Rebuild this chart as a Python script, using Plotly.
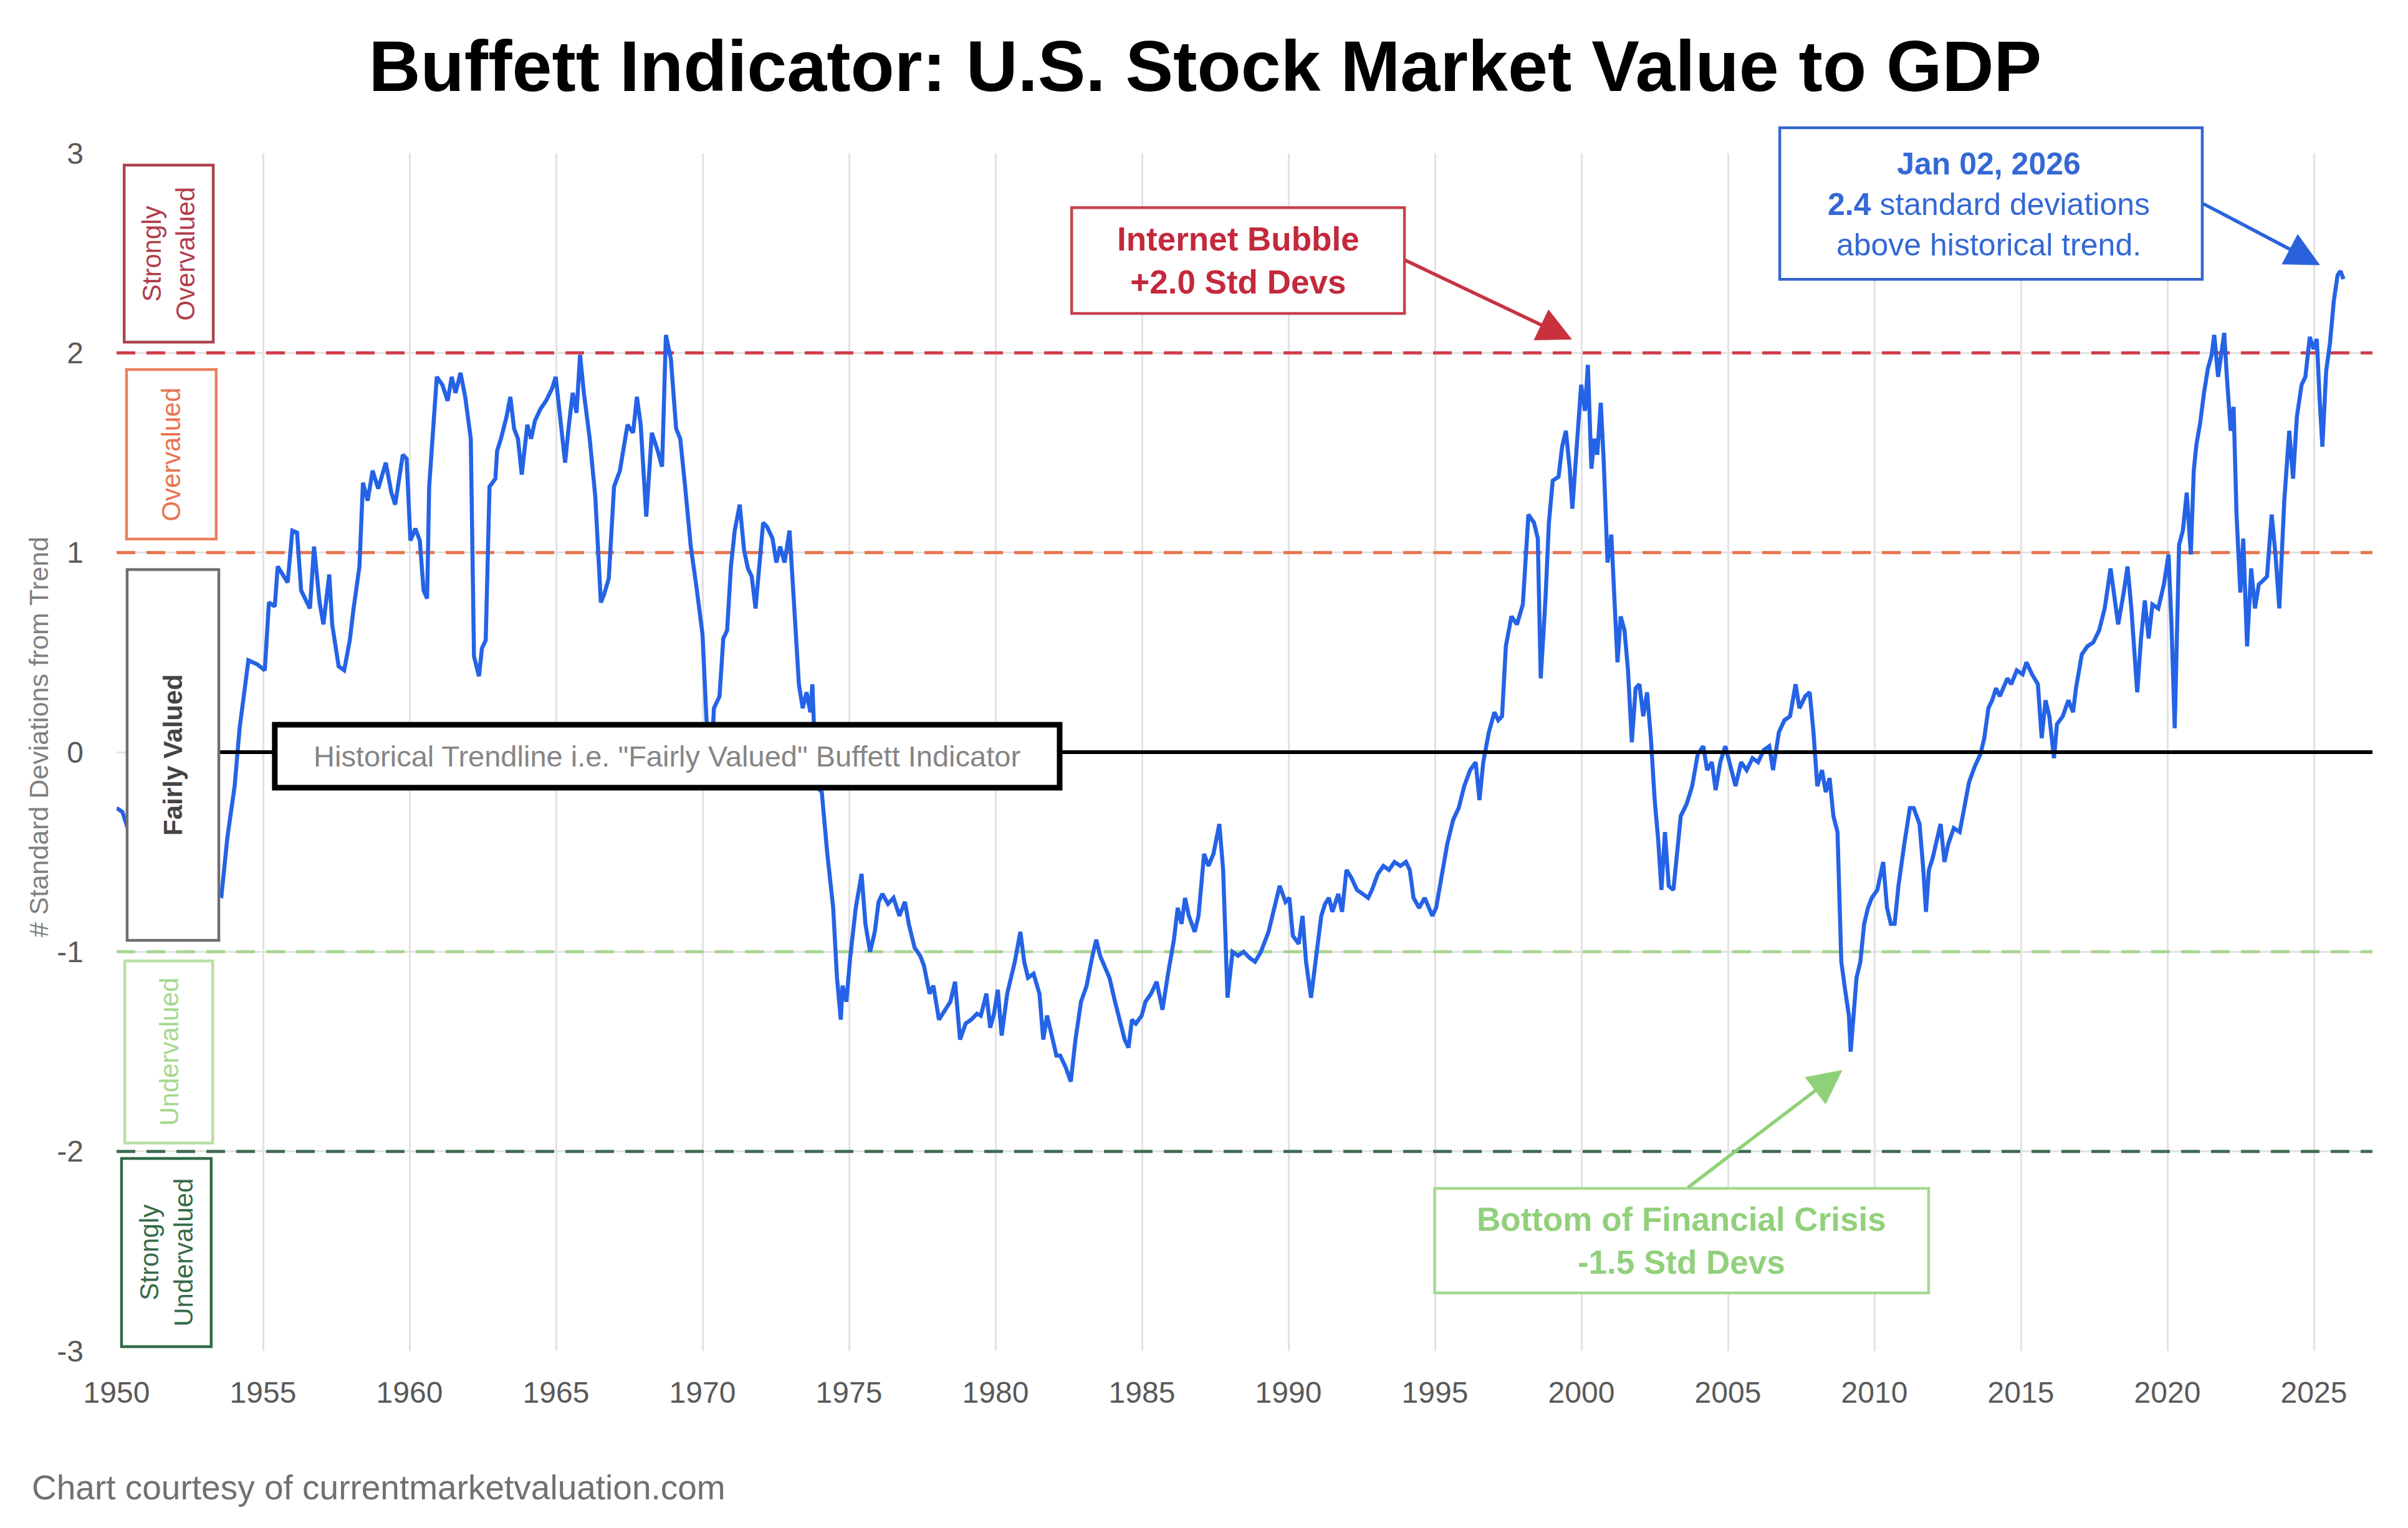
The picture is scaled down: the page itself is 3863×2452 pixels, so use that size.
import plotly.graph_objects as go

# ---------------- data ----------------
title_text = "Buffett Indicator: U.S. Stock Market Value to GDP"
source_text = "Chart courtesy of currentmarketvaluation.com"
y_axis_title = "# Standard Deviations from Trend"

years = [
    1950.0, 1950.2, 1950.4, 1951.0, 1951.8, 1952.6, 1953.3, 1953.58, 1953.78, 1954.03,
    1954.2, 1954.5, 1954.8, 1955.06, 1955.2, 1955.4, 1955.5, 1955.84, 1956.0, 1956.16,
    1956.3, 1956.6, 1956.74, 1956.93, 1957.06, 1957.26, 1957.36, 1957.58, 1957.77, 1957.96,
    1958.09, 1958.29, 1958.41, 1958.57, 1958.74, 1958.93, 1959.19, 1959.38, 1959.51, 1959.77,
    1959.9, 1960.03, 1960.2, 1960.35, 1960.48, 1960.6, 1960.67, 1960.93, 1961.12, 1961.3,
    1961.44, 1961.57, 1961.74, 1961.9, 1962.09, 1962.2, 1962.37, 1962.47, 1962.6, 1962.73,
    1962.93, 1962.99, 1963.12, 1963.31, 1963.44, 1963.57, 1963.7, 1963.83, 1964.02, 1964.15,
    1964.28, 1964.47, 1964.66, 1964.86, 1964.99, 1965.12, 1965.31, 1965.44, 1965.57, 1965.7,
    1965.82, 1965.95, 1966.15, 1966.34, 1966.53, 1966.64, 1966.8, 1966.98, 1967.18, 1967.44,
    1967.63, 1967.76, 1967.89, 1968.08, 1968.27, 1968.47, 1968.62, 1968.75, 1968.92, 1969.1,
    1969.24, 1969.4, 1969.6, 1969.8, 1970.0, 1970.13, 1970.26, 1970.39, 1970.58, 1970.71,
    1970.84, 1970.97, 1971.1, 1971.27, 1971.42, 1971.55, 1971.68, 1971.81, 1971.94, 1972.07,
    1972.2, 1972.39, 1972.52, 1972.65, 1972.8, 1972.97, 1973.1, 1973.29, 1973.42, 1973.55,
    1973.68, 1973.75, 1973.88, 1974.07, 1974.26, 1974.46, 1974.59, 1974.72, 1974.78, 1974.91,
    1975.04, 1975.23, 1975.43, 1975.56, 1975.72, 1975.88, 1976.01, 1976.14, 1976.33, 1976.52,
    1976.72, 1976.91, 1977.04, 1977.24, 1977.43, 1977.56, 1977.75, 1977.88, 1978.07, 1978.27,
    1978.46, 1978.62, 1978.79, 1978.98, 1979.17, 1979.37, 1979.5, 1979.69, 1979.82, 1979.95,
    1980.08, 1980.21, 1980.4, 1980.66, 1980.85, 1980.98, 1981.11, 1981.3, 1981.5, 1981.63,
    1981.76, 1981.89, 1982.08, 1982.21, 1982.4, 1982.57, 1982.73, 1982.92, 1983.11, 1983.31,
    1983.44, 1983.57, 1983.76, 1983.89, 1984.08, 1984.28, 1984.41, 1984.54, 1984.66, 1984.79,
    1984.99, 1985.12, 1985.31, 1985.5, 1985.7, 1985.89, 1986.09, 1986.22, 1986.35, 1986.47,
    1986.6, 1986.8, 1986.93, 1987.12, 1987.27, 1987.44, 1987.64, 1987.77, 1987.92, 1988.09,
    1988.28, 1988.47, 1988.67, 1988.86, 1989.06, 1989.32, 1989.58, 1989.7, 1989.9, 1990.03,
    1990.15, 1990.35, 1990.48, 1990.6, 1990.77, 1990.93, 1991.12, 1991.25, 1991.38, 1991.5,
    1991.7, 1991.83, 1991.98, 1992.15, 1992.34, 1992.53, 1992.72, 1992.85, 1993.05, 1993.24,
    1993.43, 1993.62, 1993.82, 1994.01, 1994.14, 1994.27, 1994.46, 1994.65, 1994.91, 1995.04,
    1995.23, 1995.42, 1995.62, 1995.81, 1996.0, 1996.2, 1996.39, 1996.52, 1996.65, 1996.84,
    1997.03, 1997.16, 1997.29, 1997.42, 1997.61, 1997.8, 1998.0, 1998.19, 1998.38, 1998.51,
    1998.61, 1998.77, 1998.89, 1999.02, 1999.22, 1999.34, 1999.47, 1999.6, 1999.69, 1999.86,
    1999.99, 2000.12, 2000.22, 2000.34, 2000.44, 2000.54, 2000.66, 2000.76, 2000.89, 2001.02,
    2001.14, 2001.23, 2001.34, 2001.47, 2001.59, 2001.72, 2001.85, 2001.98, 2002.11, 2002.24,
    2002.37, 2002.5, 2002.62, 2002.73, 2002.85, 2002.98, 2003.14, 2003.27, 2003.39, 2003.59,
    2003.78, 2003.97, 2004.16, 2004.29, 2004.45, 2004.58, 2004.74, 2004.91, 2005.06, 2005.26,
    2005.45, 2005.64, 2005.84, 2006.03, 2006.22, 2006.41, 2006.54, 2006.74, 2006.93, 2007.12,
    2007.31, 2007.44, 2007.64, 2007.79, 2007.92, 2008.05, 2008.21, 2008.34, 2008.47, 2008.6,
    2008.74, 2008.87, 2009.0, 2009.13, 2009.19, 2009.3, 2009.39, 2009.52, 2009.65, 2009.78,
    2009.91, 2010.1, 2010.3, 2010.43, 2010.56, 2010.69, 2010.82, 2011.02, 2011.21, 2011.34,
    2011.54, 2011.67, 2011.76, 2011.86, 2011.99, 2012.13, 2012.26, 2012.39, 2012.52, 2012.71,
    2012.91, 2013.04, 2013.23, 2013.43, 2013.62, 2013.75, 2013.89, 2014.02, 2014.15, 2014.28,
    2014.41, 2014.54, 2014.67, 2014.86, 2015.06, 2015.19, 2015.38, 2015.58, 2015.71, 2015.84,
    2015.97, 2016.13, 2016.23, 2016.43, 2016.62, 2016.78, 2016.88, 2017.08, 2017.27, 2017.47,
    2017.67, 2017.86, 2018.06, 2018.19, 2018.32, 2018.51, 2018.64, 2018.77, 2018.84, 2018.97,
    2019.1, 2019.23, 2019.36, 2019.49, 2019.69, 2019.88, 2020.04, 2020.14, 2020.25, 2020.34,
    2020.4, 2020.53, 2020.66, 2020.8, 2020.9, 2020.99, 2021.12, 2021.25, 2021.38, 2021.51,
    2021.6, 2021.73, 2021.84, 2021.94, 2022.03, 2022.16, 2022.26, 2022.36, 2022.49, 2022.59,
    2022.72, 2022.86, 2022.99, 2023.12, 2023.27, 2023.4, 2023.56, 2023.69, 2023.82, 2023.99,
    2024.16, 2024.29, 2024.42, 2024.58, 2024.71, 2024.86, 2024.99, 2025.1, 2025.2, 2025.29,
    2025.42, 2025.55, 2025.68, 2025.81, 2025.91, 2026.01,
]

std_devs = [
    -0.28, -0.30, -0.39, -0.45, -0.55, -0.62, -0.70, -0.72, -0.43, -0.17,
    0.12, 0.46, 0.44, 0.41, 0.75, 0.73, 0.93, 0.85, 1.11, 1.10,
    0.81, 0.72, 1.03, 0.75, 0.64, 0.89, 0.64, 0.43, 0.41, 0.56,
    0.72, 0.93, 1.35, 1.26, 1.41, 1.32, 1.45, 1.30, 1.24, 1.49,
    1.47, 1.06, 1.12, 1.06, 0.81, 0.77, 1.33, 1.88, 1.84, 1.76,
    1.88, 1.80, 1.90, 1.78, 1.57, 0.48, 0.38, 0.52, 0.56, 1.33,
    1.37, 1.51, 1.57, 1.68, 1.78, 1.62, 1.57, 1.39, 1.64, 1.57,
    1.66, 1.72, 1.76, 1.82, 1.88, 1.70, 1.45, 1.64, 1.80, 1.70,
    1.99, 1.80, 1.57, 1.28, 0.75, 0.79, 0.87, 1.33, 1.41, 1.64,
    1.60, 1.78, 1.64, 1.18, 1.60, 1.51, 1.43, 2.09, 1.97, 1.62,
    1.57, 1.34, 1.03, 0.82, 0.59, 0.18, -0.19, 0.22, 0.28, 0.57,
    0.61, 0.93, 1.11, 1.24, 1.01, 0.92, 0.88, 0.72, 0.95, 1.15,
    1.13, 1.07, 0.95, 1.03, 0.95, 1.11, 0.80, 0.34, 0.22, 0.30,
    0.20, 0.34, -0.17, -0.20, -0.51, -0.78, -1.13, -1.34, -1.17, -1.25,
    -1.03, -0.78, -0.61, -0.86, -1.00, -0.90, -0.75, -0.71, -0.76, -0.73,
    -0.82, -0.75, -0.86, -0.98, -1.02, -1.07, -1.21, -1.17, -1.34, -1.29,
    -1.25, -1.15, -1.44, -1.36, -1.34, -1.31, -1.32, -1.21, -1.38, -1.31,
    -1.19, -1.42, -1.21, -1.05, -0.90, -1.05, -1.13, -1.11, -1.21, -1.44,
    -1.32, -1.40, -1.52, -1.52, -1.58, -1.65, -1.44, -1.25, -1.17, -1.02,
    -0.94, -1.02, -1.09, -1.13, -1.25, -1.36, -1.44, -1.48, -1.34, -1.36,
    -1.32, -1.25, -1.21, -1.15, -1.29, -1.11, -0.94, -0.78, -0.86, -0.73,
    -0.82, -0.90, -0.82, -0.51, -0.57, -0.51, -0.36, -0.59, -1.23, -1.00,
    -1.02, -1.00, -1.03, -1.05, -1.00, -0.90, -0.73, -0.67, -0.75, -0.73,
    -0.92, -0.96, -0.82, -1.05, -1.23, -1.05, -0.82, -0.76, -0.73, -0.80,
    -0.71, -0.80, -0.59, -0.63, -0.69, -0.71, -0.73, -0.69, -0.61, -0.57,
    -0.59, -0.55, -0.57, -0.55, -0.59, -0.73, -0.78, -0.73, -0.82, -0.78,
    -0.63, -0.46, -0.34, -0.28, -0.17, -0.09, -0.05, -0.24, -0.05, 0.10,
    0.20, 0.16, 0.18, 0.53, 0.68, 0.64, 0.74, 1.19, 1.15, 1.07,
    0.37, 0.76, 1.15, 1.36, 1.38, 1.53, 1.61, 1.42, 1.22, 1.57,
    1.84, 1.71, 1.94, 1.42, 1.57, 1.49, 1.75, 1.46, 0.95, 1.09,
    0.72, 0.45, 0.68, 0.61, 0.41, 0.05, 0.32, 0.34, 0.18, 0.30,
    0.07, -0.24, -0.44, -0.69, -0.40, -0.67, -0.69, -0.47, -0.32, -0.26,
    -0.17, -0.01, 0.03, -0.09, -0.05, -0.19, -0.05, 0.03, -0.05, -0.17,
    -0.05, -0.09, -0.03, -0.05, 0.01, 0.03, -0.09, 0.10, 0.16, 0.18,
    0.34, 0.22, 0.28, 0.30, 0.10, -0.17, -0.09, -0.20, -0.13, -0.32,
    -0.40, -1.05, -1.19, -1.32, -1.50, -1.29, -1.13, -1.05, -0.86, -0.78,
    -0.73, -0.69, -0.55, -0.78, -0.86, -0.86, -0.67, -0.46, -0.28, -0.28,
    -0.36, -0.59, -0.80, -0.59, -0.53, -0.44, -0.36, -0.55, -0.46, -0.38,
    -0.40, -0.30, -0.15, -0.07, -0.01, 0.07, 0.22, 0.26, 0.32, 0.28,
    0.32, 0.37, 0.34, 0.41, 0.39, 0.45, 0.39, 0.34, 0.07, 0.26,
    0.18, -0.03, 0.14, 0.18, 0.26, 0.20, 0.32, 0.49, 0.53, 0.55,
    0.61, 0.72, 0.92, 0.76, 0.64, 0.80, 0.93, 0.72, 0.59, 0.30,
    0.57, 0.76, 0.57, 0.74, 0.72, 0.84, 0.99, 0.64, 0.12, 0.72,
    1.04, 1.11, 1.30, 0.99, 1.41, 1.54, 1.65, 1.80, 1.92, 1.99,
    2.09, 1.88, 1.99, 2.10, 1.88, 1.61, 1.73, 1.19, 0.80, 1.07,
    0.53, 0.92, 0.72, 0.84, 0.86, 0.88, 1.19, 0.99, 0.72, 1.26,
    1.61, 1.37, 1.68, 1.84, 1.88, 2.08, 2.02, 2.07, 1.76, 1.53,
    1.91, 2.05, 2.26, 2.39, 2.41, 2.37,
]

x_tick_vals = [1950, 1955, 1960, 1965, 1970, 1975, 1980, 1985, 1990, 1995,
               2000, 2005, 2010, 2015, 2020, 2025]
x_tick_text = [str(v) for v in x_tick_vals]
y_tick_vals = [-3, -2, -1, 0, 1, 2, 3]
y_tick_text = ["-3", "-2", "-1", "0", "1", "2", "3"]

# valuation threshold lines
threshold_levels = [2, 1, -1, -2]
threshold_colors = ["#d23a48", "#e8744f", "#a9d692", "#3f6b52"]

# valuation zone boxes on the left (in data units)
zone_labels = ["Strongly<br>Overvalued", "Overvalued", "<b>Fairly Valued</b>",
               "Undervalued", "Strongly<br>Undervalued"]
zone_x0 = [1950.26, 1950.34, 1950.36, 1950.28, 1950.17]
zone_x1 = [1953.30, 1953.40, 1953.49, 1953.28, 1953.23]
zone_y0 = [2.054, 1.068, -0.943, -1.958, -2.978]
zone_y1 = [2.941, 1.917, 0.915, -1.046, -2.035]
zone_text_colors = ["#b13c4b", "#e8734e", "#444444", "#a6d78e", "#356b48"]
zone_border_colors = ["#ad4350", "#e9825f", "#6f6f6f", "#b8dfa5", "#2f6b47"]

X_RANGE = [1950, 2027]
Y_RANGE = [-3, 3]

FONT = "Liberation Sans, Arial, sans-serif"


def fx(x):
    return (x - X_RANGE[0]) / (X_RANGE[1] - X_RANGE[0])


def fy(y):
    return (y - Y_RANGE[0]) / (Y_RANGE[1] - Y_RANGE[0])


fig = go.Figure()
fig.add_trace(go.Scatter(
    x=years, y=std_devs, mode="lines",
    line=dict(color="#2563e6", width=6.5),
    hoverinfo="skip", showlegend=False,
))

shapes = []
# dashed threshold lines (between gridlines and the trace)
for lvl, col in zip(threshold_levels, threshold_colors):
    shapes.append(dict(type="line", xref="x", yref="y", x0=X_RANGE[0], x1=X_RANGE[1],
                       y0=lvl, y1=lvl, layer="between",
                       line=dict(color=col, width=5, dash="30px,18px")))

# historical trend (zero) line
shapes.append(dict(type="line", xref="x", yref="y", x0=1953.26, x1=X_RANGE[1],
                   y0=0, y1=0, layer="above", line=dict(color="#000000", width=6)))

# zone boxes
for x0, x1, y0, y1, bc in zip(zone_x0, zone_x1, zone_y0, zone_y1, zone_border_colors):
    shapes.append(dict(type="rect", xref="x", yref="y", x0=x0, x1=x1, y0=y0, y1=y1,
                       layer="above", fillcolor="white", line=dict(color=bc, width=4.5)))

# trendline label box
shapes.append(dict(type="rect", xref="x", yref="y", x0=1955.40, x1=1982.19,
                   y0=-0.178, y1=0.137, layer="above", fillcolor="white",
                   line=dict(color="#000000", width=9)))

# Internet bubble box
shapes.append(dict(type="rect", xref="x", yref="y", x0=1982.60, x1=1993.96,
                   y0=2.198, y1=2.728, layer="above", fillcolor="white",
                   line=dict(color="#c8414f", width=4.5)))

# Financial crisis box
shapes.append(dict(type="rect", xref="x", yref="y", x0=1994.99, x1=2011.85,
                   y0=-2.709, y1=-2.185, layer="above", fillcolor="white",
                   line=dict(color="#a6d98f", width=4.5)))

# latest reading box (extends above the plot -> paper coordinates)
shapes.append(dict(type="rect", xref="paper", yref="paper", x0=fx(2006.77), x1=fx(2021.19),
                   y0=fy(2.369), y1=fy(3.128), layer="above", fillcolor="white",
                   line=dict(color="#3566cc", width=4.5)))

annotations = []

# zone texts
for lab, x0, x1, y0, y1, tc in zip(zone_labels, zone_x0, zone_x1, zone_y0, zone_y1,
                                    zone_text_colors):
    annotations.append(dict(text=lab, xref="x", yref="y", x=(x0 + x1) / 2, y=(y0 + y1) / 2,
                            xanchor="center", yanchor="middle",
                            showarrow=False, textangle=-90,
                            font=dict(family=FONT, size=42, color=tc)))

# trendline text
annotations.append(dict(text='Historical Trendline i.e. "Fairly Valued" Buffett Indicator',
                        xref="x", yref="y", x=(1955.40 + 1982.19) / 2, y=-0.02,
                        xanchor="center", yanchor="middle",
                        showarrow=False, font=dict(family=FONT, size=47, color="#858585")))

# Internet bubble text + arrow
annotations.append(dict(text="<b>Internet Bubble<br>+2.0 Std Devs</b>",
                        xref="x", yref="y", x=(1982.60 + 1993.96) / 2, y=2.463,
                        xanchor="center", yanchor="middle",
                        showarrow=False, align="center",
                        font=dict(family=FONT, size=53, color="#c3293c")))
annotations.append(dict(text="", xref="x", yref="y", x=1999.68, y=2.067,
                        axref="x", ayref="y", ax=1993.96, ay=2.466, showarrow=True,
                        arrowhead=2, arrowsize=2.0, arrowwidth=5.5, arrowcolor="#c8323f",
                        standoff=0))

# Financial crisis text + arrow
annotations.append(dict(text="<b>Bottom of Financial Crisis<br>-1.5 Std Devs</b>",
                        xref="x", yref="y", x=(1994.99 + 2011.85) / 2, y=-2.447,
                        xanchor="center", yanchor="middle",
                        showarrow=False, align="center",
                        font=dict(family=FONT, size=53, color="#92d07c")))
annotations.append(dict(text="", xref="x", yref="y", x=2008.91, y=-1.592,
                        axref="x", ayref="y", ax=2003.60, ay=-2.185, showarrow=True,
                        arrowhead=2, arrowsize=2.0, arrowwidth=5.5, arrowcolor="#8fd178",
                        standoff=0))

# latest reading text + arrow
annotations.append(dict(text="<b>Jan 02, 2026</b><br><b>2.4</b> standard deviations<br>"
                             "above historical trend.",
                        xref="paper", yref="paper", x=fx(2013.9), y=fy(2.745),
                        xanchor="center", yanchor="middle",
                        showarrow=False, align="center",
                        font=dict(family=FONT, size=50, color="#3468d4")))
annotations.append(dict(text="", xref="x", yref="y", x=2025.21, y=2.44,
                        axref="x", ayref="y", ax=2021.19, ay=2.75, showarrow=True,
                        arrowhead=2, arrowsize=2.0, arrowwidth=5.5, arrowcolor="#2a62dc",
                        standoff=0))

# y axis title
annotations.append(dict(text=y_axis_title, xref="paper", yref="paper",
                        x=-0.0345, y=0.5125, xanchor="center", yanchor="middle",
                        showarrow=False, textangle=-90,
                        font=dict(family=FONT, size=43, color="#808080")))

# source footer
annotations.append(dict(text=source_text, xref="paper", yref="paper",
                        x=-0.0381, y=-0.114, xanchor="left", yanchor="middle",
                        showarrow=False,
                        font=dict(family=FONT, size=55, color="#707070")))

fig.update_layout(
    width=3863, height=2452,
    margin=dict(l=187, r=57, t=246, b=284),
    paper_bgcolor="white", plot_bgcolor="white",
    title=dict(text="<b>" + title_text + "</b>", x=0.5005, y=1 - 106 / 2452,
               xanchor="center", yanchor="middle", xref="container", yref="container",
               font=dict(family=FONT, size=115, color="#000000")),
    xaxis=dict(range=X_RANGE, tickmode="array", tickvals=x_tick_vals, ticktext=x_tick_text,
               showgrid=True, gridcolor="#e2e2e2", gridwidth=3, zeroline=False,
               showline=False, ticks="", ticklabelstandoff=34,
               tickfont=dict(family=FONT, size=48, color="#595959")),
    yaxis=dict(range=Y_RANGE, tickmode="array", tickvals=y_tick_vals, ticktext=y_tick_text,
               showgrid=True, gridcolor="#e2e2e2", gridwidth=3, zeroline=False,
               showline=False, ticks="", ticklabelstandoff=52,
               tickfont=dict(family=FONT, size=48, color="#595959")),
    shapes=shapes,
    annotations=annotations,
    showlegend=False,
)

fig.write_html("out.html")
